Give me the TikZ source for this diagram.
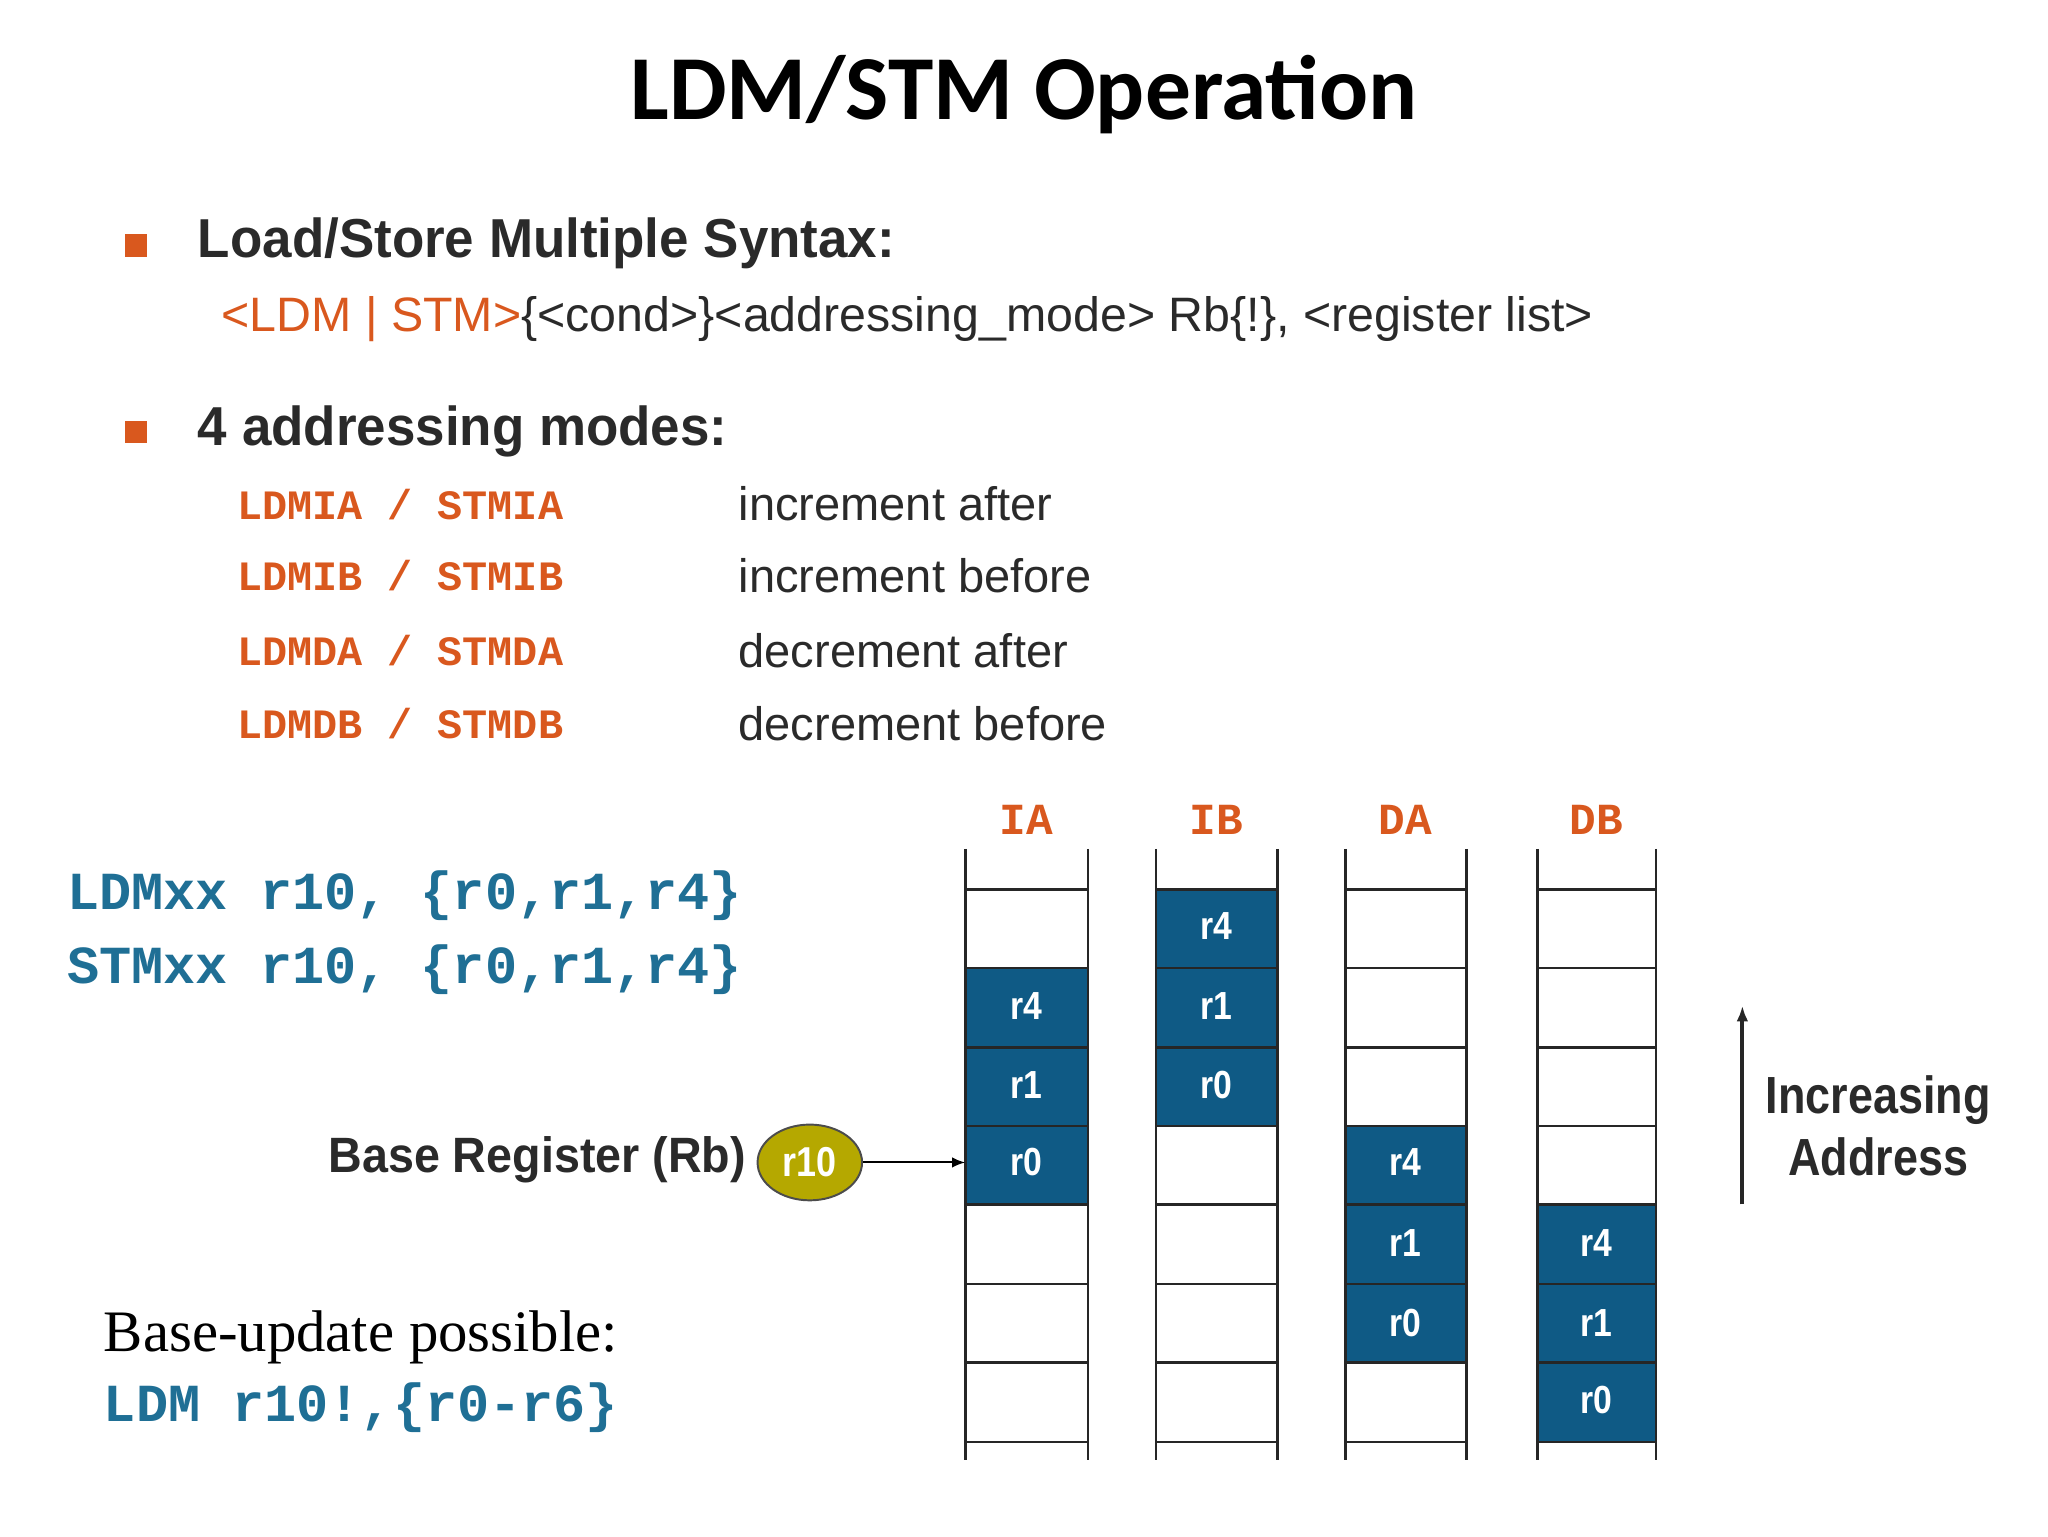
\documentclass[tikz,border=0pt]{standalone}
\usepackage{fontspec}
\usepackage{graphicx}
\setmainfont{Liberation Sans}
\newfontfamily\ttl{Carlito}
\newfontfamily\mono{Liberation Mono}
\newfontfamily\serf{Liberation Serif}
\usetikzlibrary{arrows.meta,shapes.geometric}
\definecolor{org}{HTML}{D9581E}
\definecolor{teal}{HTML}{1F6F95}
\definecolor{cellb}{HTML}{0F5A85}
\definecolor{txt}{HTML}{2A2A2A}
\definecolor{olive}{HTML}{B5A800}
\newcommand{\nar}[1]{\scalebox{0.86}[1]{#1}}
\newcommand{\nrw}[2]{\scalebox{#1}[1]{#2}}
\tikzset{
 celltxt/.style={text=white,font=\fontsize{30}{30}\selectfont\bfseries},
 modec/.style={anchor=west,text=org,font=\fontsize{32}{32}\selectfont\mono\bfseries},
 moded/.style={anchor=west,text=txt,font=\fontsize{36}{36}\selectfont},
 code/.style={anchor=west,text=teal,font=\fontsize{41}{41}\selectfont\mono\bfseries},
 bul/.style={fill=org,minimum size=17pt,inner sep=0pt},
}
\begin{document}
\begin{tikzpicture}[x=1pt,y=-1pt]
\useasboundingbox (0,0) rectangle (1568,1176);
\node (title) at (784,72) {\fontsize{70}{70}\selectfont\ttl\bfseries LDM/STM Operation};
\node[bul] (b1) at (104,188) {};
\node[bul] (b2) at (104,331) {};
\node[anchor=west,text=txt] (h1) at (148,186) {\fontsize{42}{42}\selectfont\bfseries\nrw{0.965}{Load/Store Multiple Syntax:}};
\node[anchor=west,text=txt] (syn) at (166,244) {\fontsize{37}{37}\selectfont\textcolor{org}{<LDM | STM>}\{<cond>\}<addressing\_mode> Rb\{!\}, <register list>};
\node[anchor=west,text=txt] (h2) at (148,330) {\fontsize{42}{42}\selectfont\bfseries\nrw{0.965}{4 addressing modes:}};
\node[modec] (m1) at (178,386) {LDMIA / STMIA};
\node[modec] (m2) at (178,441) {LDMIB / STMIB};
\node[modec] (m3) at (178,498) {LDMDA / STMDA};
\node[modec] (m4) at (178,554) {LDMDB / STMDB};
\node[moded] (d1) at (562,386) {increment after};
\node[moded] (d2) at (562,441) {increment before};
\node[moded] (d3) at (562,498) {decrement after};
\node[moded] (d4) at (562,554) {decrement before};
\node[code] (l1) at (48,686) {LDMxx r10, \{r0,r1,r4\}};
\node[code] (l2) at (48,742) {STMxx r10, \{r0,r1,r4\}};
\node[anchor=west,text=txt] (base) at (248,888) {\fontsize{38}{38}\selectfont\bfseries\nrw{0.94}{Base Register (Rb)}};
\node[ellipse,fill=olive,draw=black!70,line width=1.5pt,minimum width=80pt,minimum height=58pt,inner sep=0pt,text=white] (r10) at (620,890) {\fontsize{32}{32}\selectfont\bfseries\nar{r10}};
\node[anchor=west,text=black] (bu) at (76,1024) {\fontsize{45}{45}\selectfont\serf Base-update possible:};
\node[code] (l3) at (76,1078) {LDM r10!,\{r0-r6\}};
% columns
\foreach \xl/\xr/\h/\a/\b/\cc in {739/833/IA/741/922/786, 885/978/IB/681/862/931, 1030/1123/DA/862/1043/1076, 1177/1268/DB/922/1104/1222}{
 \fill[cellb] (\xl,\a) rectangle (\xr,\b);
 \node[text=org,font=\fontsize{34}{34}\selectfont\mono\bfseries] at (\cc,628) {\h};
 \draw[line width=2pt,black!85] (\xl,650) -- (\xl,1118) (\xr,650) -- (\xr,1118);
 \foreach \y in {681,741,802,862,922,983,1043,1104}{\draw[line width=2pt,black!85] (\xl,\y) -- (\xr,\y);}
}
\foreach \x/\y/\t in {786/770/r4,786/831/r1,786/890/r0, 931/709/r4,931/770/r1,931/831/r0, 1076/890/r4,1076/952/r1,1076/1013/r0, 1222/952/r4,1222/1013/r1,1222/1072/r0}{
 \node[celltxt] at (\x,\y) {\nar{\t}};
}
\coordinate (ia0) at (739,890);
\draw[-{Latex[length=10pt,width=8pt]},line width=1.5pt] (r10) -- (ia0);
\coordinate (ua) at (1334,922);
\coordinate (ub) at (1334,770);
\draw[-{Latex[length=12pt,width=9pt]},line width=3pt,black!85] (ua) -- (ub);
\node[align=center,text=txt,font=\fontsize{40}{48}\selectfont\bfseries] (inc) at (1438,862) {\nar{Increasing}\\\nar{Address}};
\end{tikzpicture}
\end{document}
